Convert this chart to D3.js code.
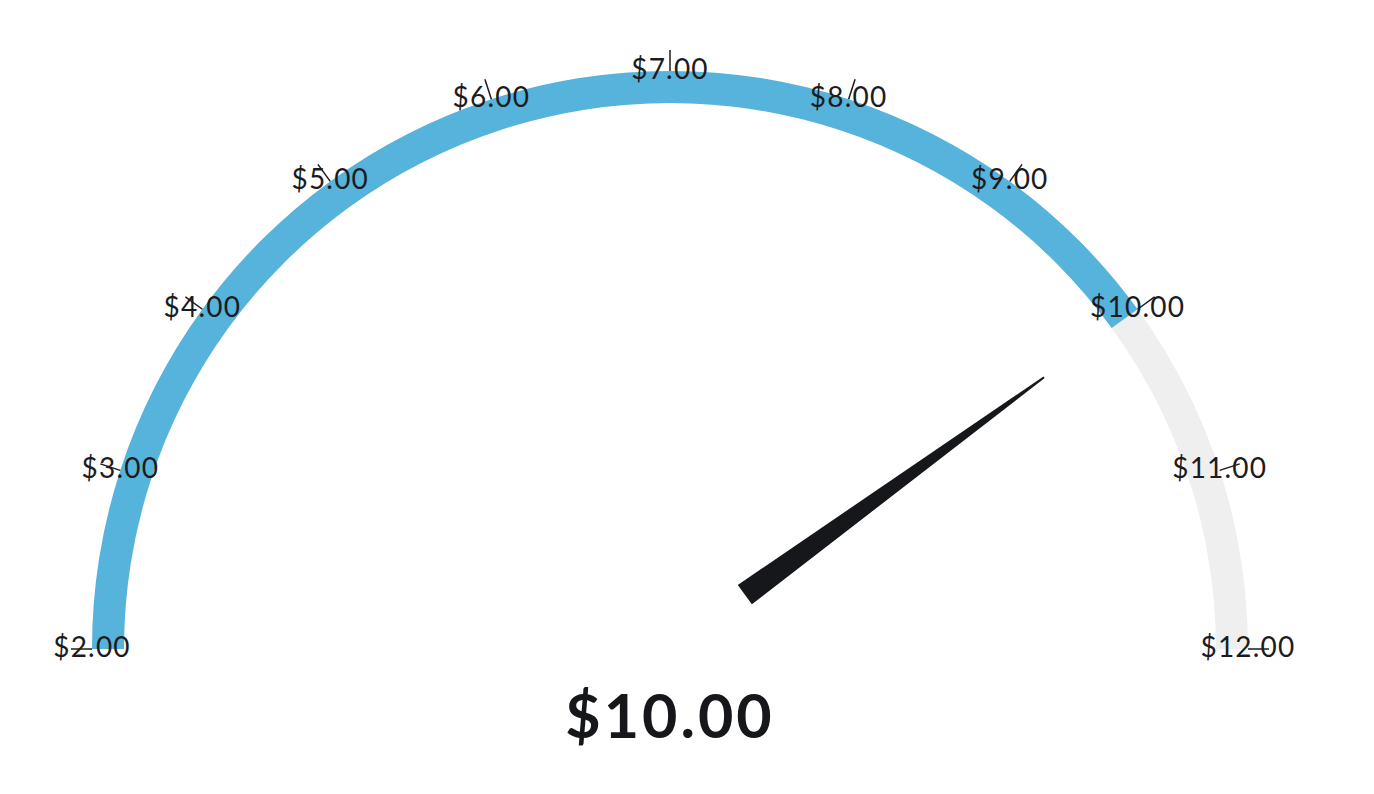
<!DOCTYPE html>
<html>
<head>
<meta charset="utf-8">
<script src="https://cdn.jsdelivr.net/npm/d3@7"></script>
<style>
  body { margin: 0; background: #fff; }
  text { font-family: Lato, "Open Sans", sans-serif; fill: #1c1c1f; }
</style>
</head>
<body>
<svg id="gauge"></svg>
<script>
var width = 1374;
var height = 794;

// gauge data
var gaugeRange = [2, 12];
var gaugeValue = [10];
var tickValues = [2, 3, 4, 5, 6, 7, 8, 9, 10, 11, 12];

var cx = 670, cy = 649;
var outerR = 578;
var thickness = 32;

var svg = d3.select("#gauge").attr("width", width).attr("height", height);
var g = svg.append("g").attr("transform", `translate(${cx},${cy})`);

var angle = d3.scaleLinear()
  .domain(gaugeRange)
  .range([-Math.PI / 2, Math.PI / 2]);

var fmt = d3.format("$.2f");

var arc = d3.arc()
  .innerRadius(outerR - thickness)
  .outerRadius(outerR);

// background track
g.append("path")
  .attr("d", arc({startAngle: angle(gaugeRange[0]), endAngle: angle(gaugeRange[1])}))
  .attr("fill", "#efefef");

// value fill
g.append("path")
  .attr("d", arc({startAngle: angle(gaugeRange[0]), endAngle: angle(gaugeValue[0])}))
  .attr("fill", "#56b3dc");

function polar(v, r) {
  var a = angle(v);
  return [r * Math.sin(a), -r * Math.cos(a)];
}

// labels
g.selectAll("text.tick-label")
  .data(tickValues)
  .enter()
  .append("text")
  .attr("class", "tick-label")
  .attr("x", function(d) { return polar(d, outerR)[0]; })
  .attr("y", function(d) { return polar(d, outerR)[1]; })
  .attr("dy", -3)
  .attr("text-anchor", "middle")
  .attr("dominant-baseline", "central")
  .attr("font-size", 28)
  .attr("letter-spacing", 1.2)
  .text(function(d) { return fmt(d); });

// tick marks
g.selectAll("line.tick")
  .data(tickValues)
  .enter()
  .append("line")
  .attr("class", "tick")
  .attr("x1", function(d) { return polar(d, outerR)[0]; })
  .attr("y1", function(d) { return polar(d, outerR)[1]; })
  .attr("x2", function(d) { return polar(d, outerR + 21)[0]; })
  .attr("y2", function(d) { return polar(d, outerR + 21)[1]; })
  .attr("stroke", "#1c1c1f")
  .attr("stroke-width", 1.5);

// needle
var needleBase = outerR * 0.16, needleTip = outerR * 0.8;
function needlePoints(v) {
  var a = angle(v);
  var ux = Math.sin(a), uy = -Math.cos(a);
  var px = -uy, py = ux;
  return [
    [ux * needleBase + px * 12, uy * needleBase + py * 12],
    [ux * needleTip + px * 1, uy * needleTip + py * 1],
    [ux * needleTip - px * 1, uy * needleTip - py * 1],
    [ux * needleBase - px * 12, uy * needleBase - py * 12]
  ];
}

g.append("path")
  .datum(needlePoints(gaugeValue[0]))
  .attr("d", d3.line().curve(d3.curveLinearClosed))
  .attr("fill", "#16171a");

// value readout
svg.append("text")
  .attr("x", cx)
  .attr("y", 738)
  .attr("text-anchor", "middle")
  .attr("font-size", 61)
  .attr("font-weight", "bold")
  .attr("letter-spacing", 3)
  .style("fill", "#16171a")
  .text(fmt(gaugeValue[0]));
</script>
</body>
</html>
